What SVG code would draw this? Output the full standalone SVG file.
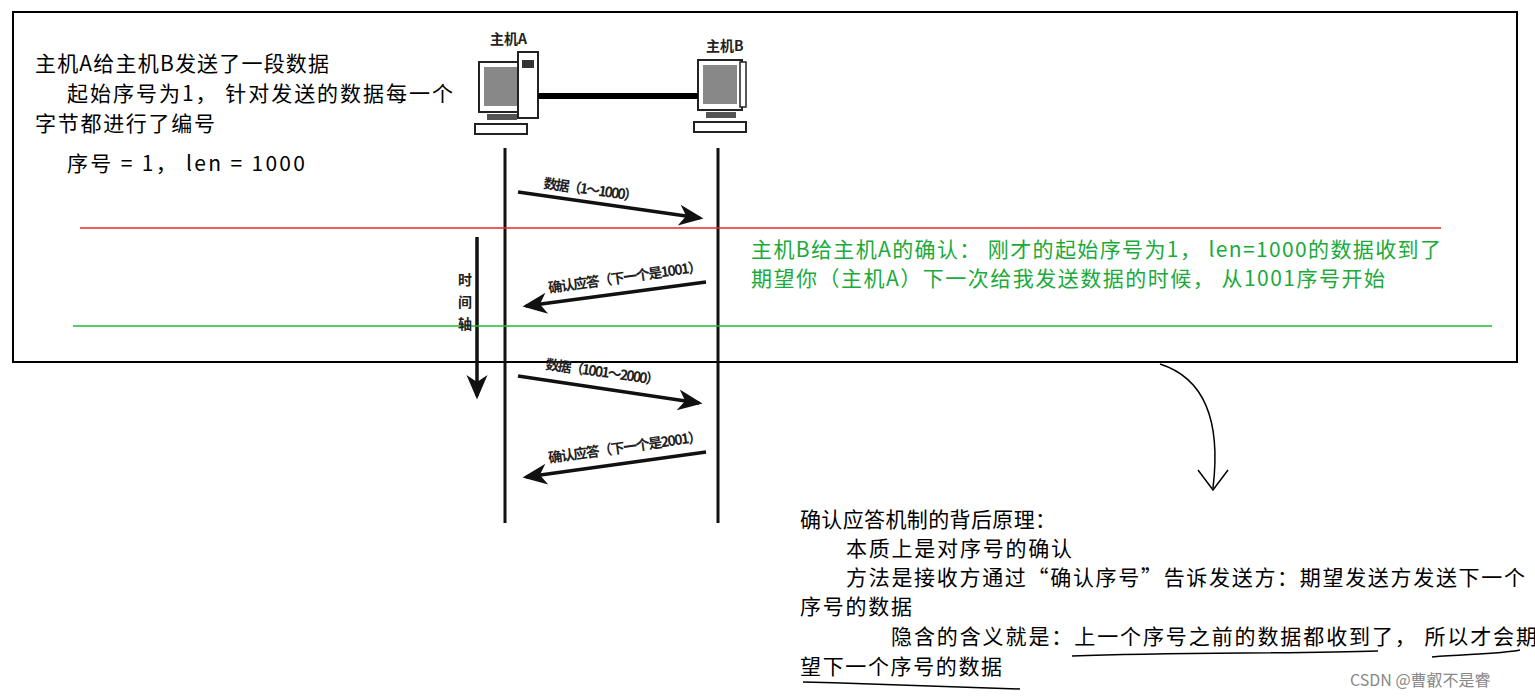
<svg xmlns="http://www.w3.org/2000/svg" width="1535" height="700" viewBox="0 0 1535 700">
<style>
.t{font-family:"Noto Sans CJK SC","Liberation Sans",sans-serif;font-size:21px;fill:#000}
.g{fill:#1aaa3a}
.s{font-family:"Noto Sans CJK SC",sans-serif;font-size:14px;font-weight:bold;fill:#222}
.ln{stroke:#111;stroke-width:3;fill:none}
.ar{stroke:#111;stroke-width:3.5;fill:none;marker-end:url(#ah)}
</style>
<defs>
<marker id="ah" markerWidth="8" markerHeight="8" refX="6" refY="4" orient="auto" markerUnits="strokeWidth"><path d="M0,1 L7,4 L0,7 L2,4Z" fill="#111"/></marker>
<g id="pc">
<rect x="0" y="0" width="44" height="50" fill="#fff" stroke="#222" stroke-width="2"/>
<rect x="5" y="5" width="34" height="39" fill="#888"/>
<rect x="8" y="52" width="30" height="6" fill="#555"/>
<rect x="-4" y="62" width="52" height="10" fill="#fff" stroke="#222" stroke-width="2"/>
</g>
</defs>
<rect x="13" y="12" width="1504" height="350" fill="#fff" stroke="#000" stroke-width="2"/>
<g id="text-left">
<text class="t" x="35" y="71" textLength="294">主机A给主机B发送了一段数据</text>
<text class="t" x="67" y="101" textLength="386">起始序号为1， 针对发送的数据每一个</text>
<text class="t" x="35" y="131" textLength="180">字节都进行了编号</text>
<text class="t" x="67" y="171" textLength="238">序号 = 1，  len = 1000</text>
</g>
<g id="hostA">
<text class="s" x="490" y="44">主机A</text>
<use href="#pc" x="479" y="62"/>
<rect x="518" y="52" width="20" height="66" fill="#fff" stroke="#222" stroke-width="2"/>
<rect x="522" y="60" width="12" height="8" fill="#333"/>
</g>
<g id="hostB">
<text class="s" x="706" y="51">主机B</text>
<use href="#pc" x="698" y="60"/>
<rect x="740" y="62" width="6" height="45" fill="#fff" stroke="#222" stroke-width="1.5"/>
</g>
<g id="connectors">
<line x1="538" y1="96" x2="698" y2="96" stroke="#000" stroke-width="6"/>
<line class="ln" x1="505" y1="148" x2="505" y2="523"/>
<line class="ln" x1="718" y1="148" x2="718" y2="523"/>
<line class="ar" x1="477" y1="237" x2="477" y2="396" stroke-width="3"/>
<line class="ar" x1="518" y1="192" x2="700" y2="218"/>
<line class="ar" x1="706" y1="282" x2="526" y2="306"/>
<line class="ar" x1="518" y1="376" x2="699" y2="403"/>
<line class="ar" x1="706" y1="452" x2="526" y2="477"/>
<line x1="80" y1="228" x2="1441" y2="228" stroke="#e8282a" stroke-width="1.5"/>
<line x1="73" y1="326" x2="1492" y2="326" stroke="#22bb33" stroke-width="1.5"/>
<path d="M1160,364 C1210,380 1220,430 1213,488" fill="none" stroke="#000" stroke-width="1.5"/>
<path d="M1198,470 L1213,490 L1228,470" fill="none" stroke="#000" stroke-width="1.5"/>
<path d="M1072,656 C1180,652 1290,654 1378,651" fill="none" stroke="#000" stroke-width="1.5"/>
<path d="M1432,657 C1470,654 1500,654 1520,650" fill="none" stroke="#000" stroke-width="1.5"/>
<path d="M803,682 C880,684 960,687 1020,689" fill="none" stroke="#000" stroke-width="1.5"/>
</g>
<g id="labels">
<text class="s" transform="translate(543,188) rotate(8)" textLength="95">数据（1～1000）</text>
<text class="s" transform="translate(549,293) rotate(-8)" textLength="155">确认应答（下一个是1001）</text>
<text class="s" transform="translate(545,369) rotate(8)" textLength="115">数据（1001～2000）</text>
<text class="s" transform="translate(549,463) rotate(-8)" textLength="155">确认应答（下一个是2001）</text>
<text class="s" x="458" y="285">时</text>
<text class="s" x="458" y="307">间</text>
<text class="s" x="458" y="329">轴</text>
</g>
<g id="text-green">
<text class="t g" x="751" y="257" textLength="690">主机B给主机A的确认： 刚才的起始序号为1， len=1000的数据收到了</text>
<text class="t g" x="751" y="286" textLength="634">期望你（主机A）下一次给我发送数据的时候， 从1001序号开始</text>
</g>
<g id="text-bottom">
<text class="t" x="800" y="527" textLength="256">确认应答机制的背后原理：</text>
<text class="t" x="846" y="556" textLength="226">本质上是对序号的确认</text>
<text class="t" x="846" y="585" textLength="679">方法是接收方通过“确认序号”告诉发送方：期望发送方发送下一个</text>
<text class="t" x="800" y="614" textLength="112">序号的数据</text>
<text class="t" x="891" y="644" textLength="646">隐含的含义就是：上一个序号之前的数据都收到了， 所以才会期</text>
<text class="t" x="800" y="674" textLength="202">望下一个序号的数据</text>
<text x="1350" y="686" font-family="Noto Sans CJK SC,sans-serif" font-size="16" fill="#888">CSDN @曹叡不是睿</text>
</g>
</svg>
